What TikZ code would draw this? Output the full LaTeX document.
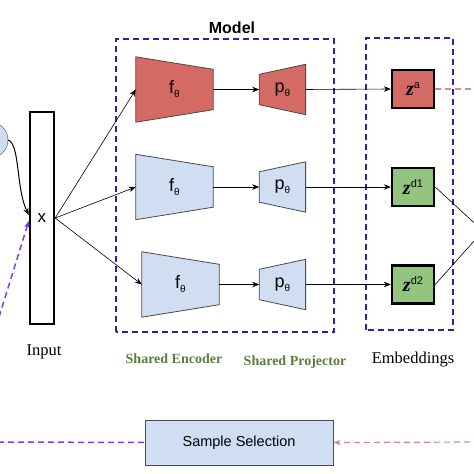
\documentclass[tikz,border=0pt]{standalone}
\usepackage{fontspec}
\setmainfont{Liberation Serif}
\setsansfont{Liberation Sans}
\usepackage{tikz}
\usetikzlibrary{arrows.meta,backgrounds,positioning}

\definecolor{redfill}{HTML}{D46A64}
\definecolor{bluefill}{HTML}{CFDEF0}
\definecolor{greenfill}{HTML}{93C47D}
\definecolor{boxblue}{HTML}{2424B4}
\definecolor{violetdash}{HTML}{7E3FE0}
\definecolor{pinkdash}{HTML}{D98888}
\definecolor{labgreen}{HTML}{5A7D3C}
\definecolor{edgegray}{HTML}{4A4A4A}

\newcommand{\fth}{f\raisebox{-4pt}{\fontsize{10}{10}\selectfont θ}}
\newcommand{\pth}{p\raisebox{-4pt}{\fontsize{10}{10}\selectfont θ}}
\newcommand{\zlab}[1]{{\rmfamily\bfseries\itshape\fontsize{20}{20}\selectfont z}\raisebox{7pt}{\fontsize{11}{11}\selectfont #1}}

\begin{document}
\begin{tikzpicture}[x=1pt,y=1pt,
    enc/.style={minimum width=77pt,minimum height=65pt,inner sep=0pt,font=\sffamily\fontsize{18}{18}\selectfont},
    proj/.style={minimum width=46pt,minimum height=50pt,inner sep=0pt,font=\sffamily\fontsize{18}{18}\selectfont},
    emb/.style={draw=black,line width=2.4pt,minimum width=42pt,minimum height=38pt,inner sep=0pt,font=\sffamily\fontsize{17}{17}\selectfont},
    arr/.style={-{Stealth[length=7pt,width=5.5pt]},line width=0.6pt},
    grp/.style={draw=boxblue,line width=1.6pt,dash pattern=on 6pt off 4pt},
    capt/.style={font=\fontsize{16.5}{16.5}\selectfont},
    gcapt/.style={font=\bfseries\fontsize{14}{14}\selectfont,text=labgreen}]
    \useasboundingbox (0,0) rectangle (474,474);
    \clip (0,0) rectangle (474,474);

    % input and source
    \node[draw=black,line width=2.4pt,minimum width=24pt,minimum height=212pt,inner sep=0pt,
          font=\sffamily\fontsize{17}{17}\selectfont] (inp) at (42,256) {x};
    \node[circle,draw=edgegray,fill=bluefill,minimum size=36pt] (src) at (-10,334) {};
    \coordinate (lp) at (-1,157);
    \coordinate (lb) at (-2,32);
    \coordinate (rb) at (480,32);
    \coordinate (ra) at (480,385);
    \coordinate (sim) at (483,243);

    % encoders, projectors, embeddings
    \node[enc] (enca) at (174.5,384.5) {\fth};
    \node[enc] (encb) at (174.5,287) {\fth};
    \node[enc] (encc) at (180.5,189.5) {\fth};
    \node[proj,right=46pt of enca] (proja) {\pth};
    \node[proj,right=46pt of encb] (projb) {\pth};
    \node[proj,right=40pt of encc] (projc) {\pth};
    \node[emb,fill=redfill] (za) at (413,385) {\zlab{a}};
    \node[emb,fill=greenfill] (zb) at (413,287) {\zlab{d1}};
    \node[emb,fill=greenfill] (zc) at (413,189.5) {\zlab{d2}};

    \begin{scope}[on background layer]
        \foreach \n/\c in {enca/redfill,encb/bluefill,encc/bluefill}
            \filldraw[fill=\c,draw=edgegray,line width=0.8pt] (\n.north west) -- ([yshift=-12.5pt]\n.north east)
                -- ([yshift=12.5pt]\n.south east) -- (\n.south west) -- cycle;
        \foreach \n/\c in {proja/redfill,projb/bluefill,projc/bluefill}
            \filldraw[fill=\c,draw=edgegray,line width=0.8pt] ([yshift=-10pt]\n.north west) -- (\n.north east)
                -- (\n.south east) -- ([yshift=10pt]\n.south west) -- cycle;
    \end{scope}

    % groups
    \draw[grp] (116,142) rectangle (334,435);
    \draw[grp] (366,144) rectangle (453,436);
    \node[font=\sffamily\bfseries\fontsize{16}{16}\selectfont] (mlab) at (232,446) {Model};

    % captions
    \node[capt] (ilab) at (44,122) {Input};
    \node[gcapt] (elab) at (174,115) {Shared Encoder};
    \node[gcapt] (plab) at (295,112) {Shared Projector};
    \node[capt] (blab) at (413,114) {Embeddings};

    % sample selection
    \node[draw=edgegray,line width=0.8pt,fill=bluefill,minimum width=188pt,minimum height=45pt,inner sep=0pt,
          font=\sffamily\fontsize{14.5}{14.5}\selectfont] (sel) at (239,31.5) {Sample Selection};

    % connectors
    \foreach \n in {enca,encb,encc}
        \draw[arr] (inp.east) -- (\n.west);
    \draw[arr] (enca.east) -- (proja.west);
    \draw[arr] (encb.east) -- (projb.west);
    \draw[arr] (encc.east) -- (projc.west);
    \draw[arr] (proja.east) -- (za.west);
    \draw[arr] (projb.east) -- (zb.west);
    \draw[arr] (projc.east) -- (zc.west);
    \draw[line width=0.6pt] (zb.east) -- (sim);
    \draw[line width=0.6pt] (zc.east) -- (sim);
    \draw[pinkdash,line width=1.2pt,dash pattern=on 6pt off 4pt] (za.east) -- (ra);
    \draw[arr,line width=1pt] (src.east) .. controls (20,330) and (16,285) .. ([yshift=3pt]inp.west);
    \draw[arr,violetdash,line width=1.5pt,dash pattern=on 6pt off 4pt] (lp) -- ([yshift=-3pt]inp.west);
    \draw[violetdash,line width=1.5pt,dash pattern=on 6pt off 4pt] (lb) -- (sel.west);
    \draw[arr,pinkdash,line width=1.2pt,dash pattern=on 6pt off 4pt] (rb) -- (sel.east);
\end{tikzpicture}
\end{document}
